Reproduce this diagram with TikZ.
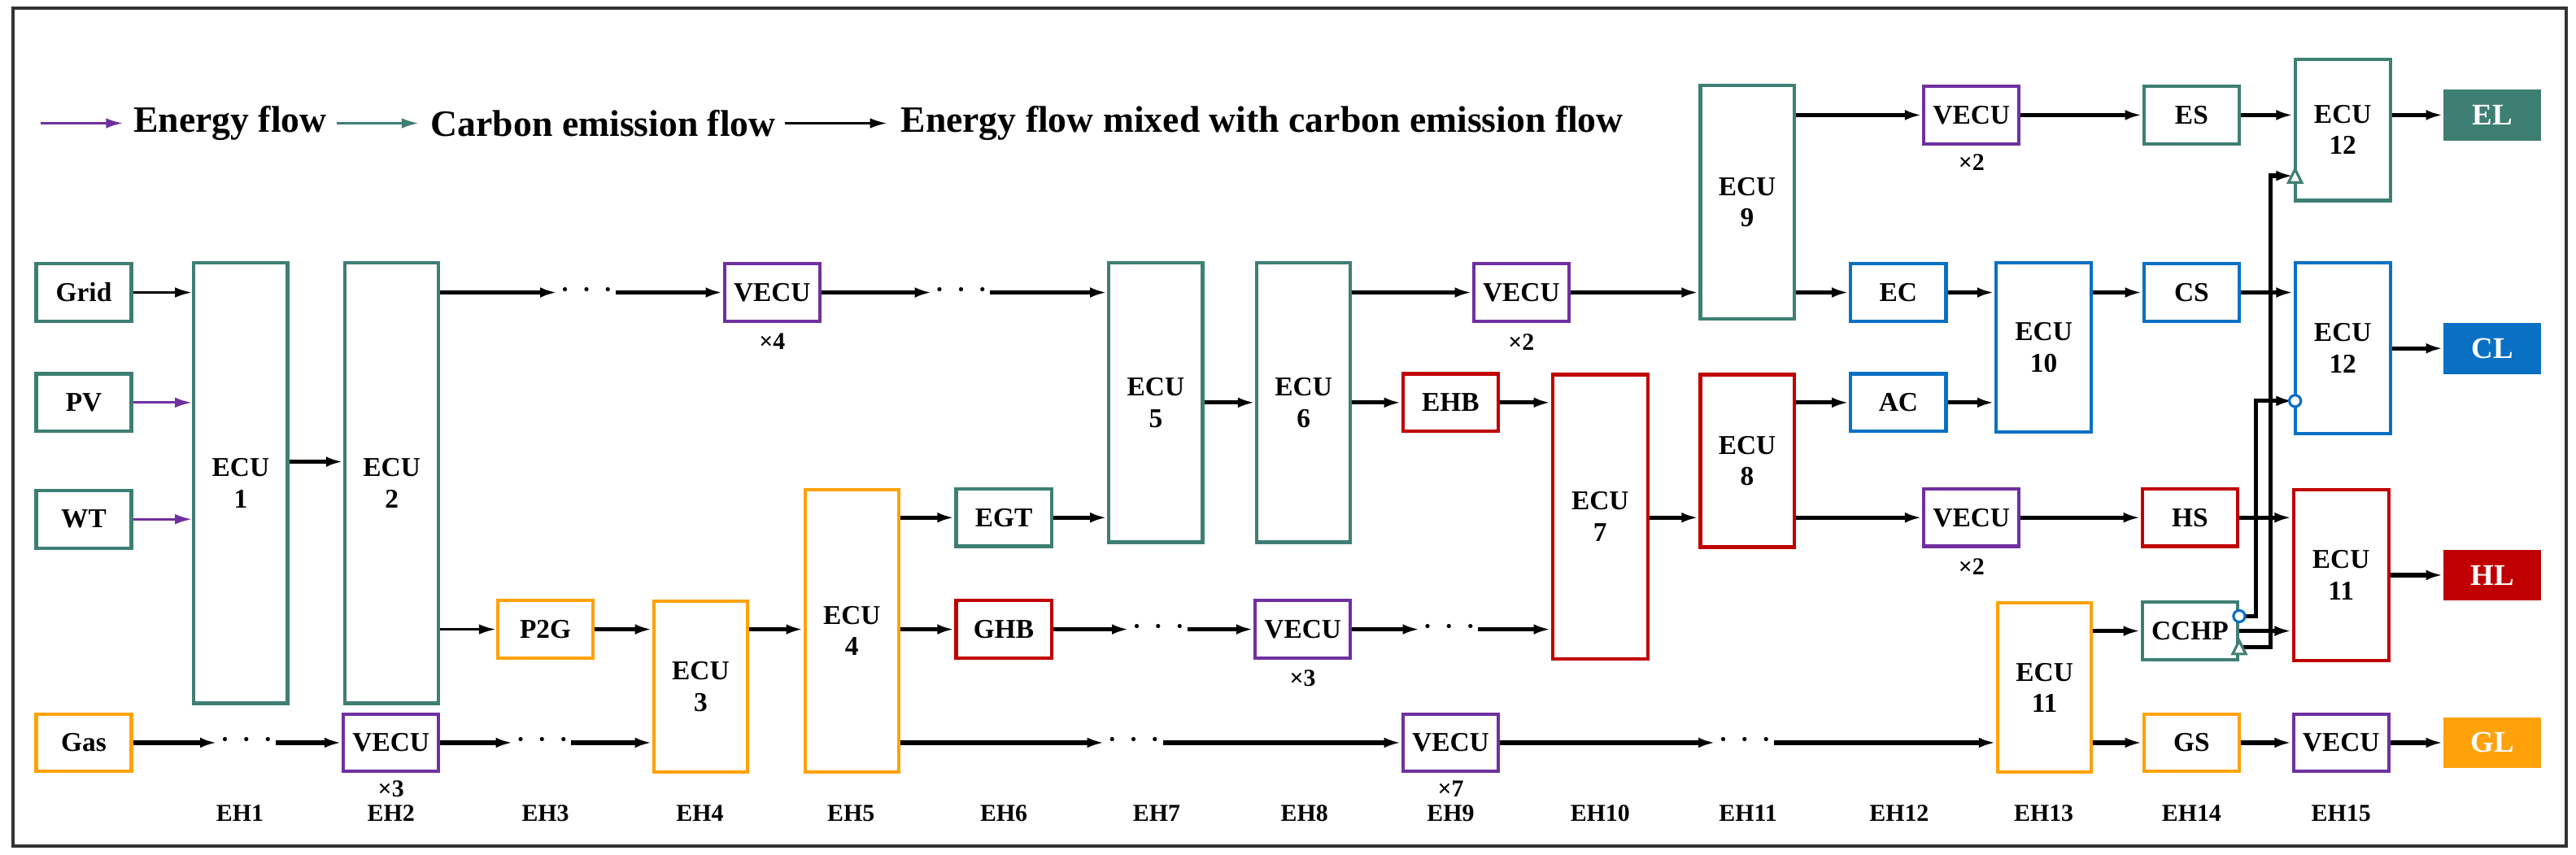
\documentclass[tikz,border=0pt]{standalone}
\usepackage{fontspec}
\setmainfont{Liberation Serif}
\usetikzlibrary{arrows.meta}
\definecolor{cT}{HTML}{3E7F74}
\definecolor{cB}{HTML}{0A70C4}
\definecolor{cR}{HTML}{C00000}
\definecolor{cO}{HTML}{FFA20A}
\definecolor{cP}{HTML}{7030A0}
\newcommand\mytri[2]{\draw[cT,fill=white,line width=0.9pt] (#1-4,#2+4)--(#1+4,#2+4)--(#1,#2-4)--cycle;}
\begin{document}
\begin{tikzpicture}[x=0.0202cm,y=-0.0202cm,
  font=\bfseries\fontsize{9.5}{11}\selectfont,
  bx/.style n args={3}{draw=#1,line width=1.2pt,fill=white,minimum width=#2*0.0202cm,minimum height=#3*0.0202cm,inner sep=0pt,align=center},
  sm/.style={bx={#1}{58}{35}},
  vecu/.style={sm=cP},
  ld/.style={fill=#1,text=white,minimum width=59*0.0202cm,minimum height=31*0.0202cm,inner sep=0pt,font=\bfseries\fontsize{10.5}{12}\selectfont},
  ar/.style={-{Latex[length=6pt,width=3.6pt]},line width=0.9pt},
  tar/.style={ar,line width=1.5pt},
  lab/.style={font=\bfseries\fontsize{8.5}{10}\selectfont},
  dots/.style={inner sep=1pt,font=\bfseries\fontsize{9}{10}\selectfont}]
\useasboundingbox (0,0) rectangle (1568,520);
\draw[line width=1.2pt,black!80] (8,5) rectangle (1562,515);
% legend
\coordinate (l1a) at (25,75); \coordinate (l1b) at (75,75);
\coordinate (l2a) at (205,75); \coordinate (l2b) at (255,75);
\coordinate (l3a) at (478,75); \coordinate (l3b) at (540,75);
\draw[ar,cP] (l1a)--(l1b); \draw[ar,cT] (l2a)--(l2b); \draw[ar] (l3a)--(l3b);
\begin{scope}[font=\bfseries\fontsize{13}{15}\selectfont]
\node[anchor=west,inner sep=0pt] (t1) at (81,75) {Energy flow};
\node[anchor=west,inner sep=0pt] (t2) at (262,75) {Carbon emission flow};
\node[anchor=west,inner sep=0pt] (t3) at (548,75) {Energy flow mixed with carbon emission flow};
\end{scope}
% nodes
\node[sm=cT] (grid) at (51,178) {Grid};
\node[sm=cT] (pv) at (51,245) {PV};
\node[sm=cT] (wt) at (51,316) {WT};
\node[sm=cO] (gas) at (51,452) {Gas};
\node[bx={cT}{57}{268}] (e1) at (146.5,294) {ECU\\1};
\node[bx={cT}{57}{268}] (e2) at (238.5,294) {ECU\\2};
\node[vecu] (v1) at (470,178) {VECU};
\node[vecu] (v2) at (238,452) {VECU};
\node[sm=cO] (p2g) at (332,383) {P2G};
\node[bx={cO}{57}{104}] (e3) at (426.5,418) {ECU\\3};
\node[bx={cO}{57}{172}] (e4) at (518.5,384) {ECU\\4};
\node[sm=cT] (egt) at (611,315) {EGT};
\node[sm=cR] (ghb) at (611,383) {GHB};
\node[bx={cT}{57}{170}] (e5) at (703.5,245) {ECU\\5};
\node[bx={cT}{57}{170}] (e6) at (793.5,245) {ECU\\6};
\node[vecu] (v3) at (793,383) {VECU};
\node[vecu] (v4) at (883,452) {VECU};
\node[vecu] (v5) at (926,178) {VECU};
\node[sm=cR] (ehb) at (883,245) {EHB};
\node[bx={cR}{58}{173}] (e7) at (974,314.5) {ECU\\7};
\node[bx={cR}{57}{105}] (e8) at (1063.5,280.5) {ECU\\8};
\node[bx={cT}{57}{142}] (e9) at (1063.5,123) {ECU\\9};
\node[vecu] (v6) at (1200,70) {VECU};
\node[sm=cB] (ec) at (1155.5,178) {EC};
\node[sm=cB] (ac) at (1155.5,245) {AC};
\node[bx={cB}{58}{103}] (e10) at (1244,211.5) {ECU\\10};
\node[vecu] (v7) at (1200,315) {VECU};
\node[bx={cO}{57}{103}] (e11a) at (1244.5,418.5) {ECU\\11};
\node[sm=cT] (es) at (1334,70) {ES};
\node[sm=cB] (cs) at (1334,178) {CS};
\node[sm=cR] (hs) at (1333,315) {HS};
\node[sm=cT] (cchp) at (1333,384) {CCHP};
\node[sm=cO] (gs) at (1334,452) {GS};
\node[vecu] (v8) at (1425,452) {VECU};
\node[bx={cT}{58}{86}] (e12a) at (1426,79) {ECU\\12};
\node[bx={cB}{58}{104}] (e12b) at (1426,212) {ECU\\12};
\node[bx={cR}{58}{104}] (e11b) at (1425,350) {ECU\\11};
\node[ld=cT] (el) at (1517,70) {EL};
\node[ld=cB] (cl) at (1517,212) {CL};
\node[ld=cR] (hl) at (1517,350) {HL};
\node[ld=cO] (gl) at (1517,452) {GL};
% multipliers
\node[lab] (m1) at (470,208) {×4};
\node[lab] (m2) at (238,480) {×3};
\node[lab] (m3) at (793,413) {×3};
\node[lab] (m4) at (883,480) {×7};
\node[lab] (m5) at (926,208) {×2};
\node[lab] (m6) at (1200,99) {×2};
\node[lab] (m7) at (1200,345) {×2};
% EH labels
\foreach \i/\x in {1/146,2/238,3/332,4/426,5/518,6/611,7/704,8/794,9/883,10/974,11/1064,12/1156,13/1244,14/1334,15/1425}
  \node[lab] (eh\i) at (\x,495) {EH\i};
% dots
\node[dots] (d1) at (357,178) {·\ \ ·\ \ ·};
\node[dots] (d2) at (585,178) {·\ \ ·\ \ ·};
\node[dots] (d3) at (150,452) {·\ \ ·\ \ ·};
\node[dots] (d4) at (330,452) {·\ \ ·\ \ ·};
\node[dots] (d5) at (705,383) {·\ \ ·\ \ ·};
\node[dots] (d6) at (882,383) {·\ \ ·\ \ ·};
\node[dots] (d7) at (690,452) {·\ \ ·\ \ ·};
\node[dots] (d8) at (1062,452) {·\ \ ·\ \ ·};
% connectors
\draw[ar] (grid)--(grid-|e1.west);
\draw[ar,cP] (pv)--(pv-|e1.west);
\draw[ar,cP] (wt)--(wt-|e1.west);
\draw[tar] (e1.east|-0,281)--(e2.west|-0,281);
\draw[tar] (e2.east|-0,178)--(d1.west);
\draw[tar] (d1.east)--(v1);
\draw[tar] (v1)--(d2.west);
\draw[tar] (d2.east)--(e5.west|-0,178);
\draw[ar] (e2.east|-0,383)--(p2g);
\draw[tar] (p2g)--(e3.west|-0,383);
\draw[tar] (e3.east|-0,383)--(e4.west|-0,383);
\draw[tar] (gas)--(d3.west);
\draw[tar] (d3.east)--(v2);
\draw[tar] (v2)--(d4.west);
\draw[tar] (d4.east)--(e3.west|-0,452);
\draw[tar] (e4.east|-0,315)--(egt);
\draw[tar] (egt)--(e5.west|-0,315);
\draw[tar] (e4.east|-0,383)--(ghb);
\draw[tar] (ghb)--(d5.west);
\draw[tar] (d5.east)--(v3);
\draw[tar] (v3)--(d6.west);
\draw[tar] (d6.east)--(e7.west|-0,383);
\draw[tar] (e4.east|-0,452)--(d7.west);
\draw[tar] (d7.east)--(v4);
\draw[tar] (v4)--(d8.west);
\draw[tar] (d8.east)--(e11a.west|-0,452);
\draw[tar] (e5.east|-0,245)--(e6.west|-0,245);
\draw[tar] (e6.east|-0,178)--(v5);
\draw[tar] (v5)--(e9.west|-0,178);
\draw[tar] (e6.east|-0,245)--(ehb);
\draw[tar] (ehb)--(e7.west|-0,245);
\draw[tar] (e7.east|-0,315)--(e8.west|-0,315);
\draw[tar] (e9.east|-0,70)--(v6);
\draw[tar] (v6)--(es);
\draw[tar] (es)--(e12a.west|-0,70);
\draw[tar] (e9.east|-0,178)--(ec);
\draw[tar] (ec)--(e10.west|-0,178);
\draw[tar] (e8.east|-0,245)--(ac);
\draw[tar] (ac)--(e10.west|-0,245);
\draw[tar] (e10.east|-0,178)--(cs);
\draw[tar] (cs)--(e12b.west|-0,178);
\draw[tar] (e8.east|-0,315)--(v7);
\draw[tar] (v7)--(hs);
\draw[tar] (hs)--(e11b.west|-0,315);
\draw[tar] (e11a.east|-0,384)--(cchp);
\draw[tar] (cchp)--(e11b.west|-0,384);
\draw[tar] (e11a.east|-0,452)--(gs);
\draw[tar] (gs)--(v8);
\draw[tar] (v8)--(gl);
\draw[tar] (e12a.east|-0,70)--(el);
\draw[tar] (e12b)--(cl);
\draw[tar] (e11b)--(hl);
\coordinate (k1) at (1382,0);
\coordinate (k2) at (1373,0);
\draw[tar] (cchp.east|-0,394)--(k1|-0,394)--(k1|-0,107)--(e12a.west|-0,107);
\draw[tar] (cchp.east|-0,375)--(k2|-0,375)--(k2|-0,244)--(e12b.west|-0,244);
\mytri{1363}{394}
\mytri{1397}{107}
\node[circle,draw=cB,fill=white,line width=0.9pt,minimum size=7*0.0202cm,inner sep=0pt] (c1) at (1363,375) {};
\node[circle,draw=cB,fill=white,line width=0.9pt,minimum size=7*0.0202cm,inner sep=0pt] (c2) at (1397,244) {};
\end{tikzpicture}
\end{document}
